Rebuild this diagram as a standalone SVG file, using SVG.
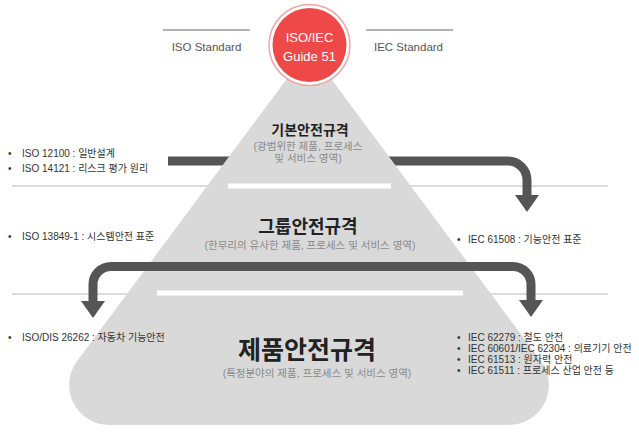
<svg xmlns="http://www.w3.org/2000/svg" width="639" height="434" viewBox="0 0 639 434">
<style>
text{font-family:"Liberation Sans","Noto Sans CJK KR",sans-serif}
.hair{stroke:#999;stroke-width:1.5;fill:none}
.sep{stroke:#cfcfcf;stroke-width:1.5;fill:none}
.arr{stroke:#555;stroke-width:9;fill:none}
.std{font-size:11.5px;fill:#555;text-anchor:middle}
.item{font-size:10px;fill:#333}
.h1{font-weight:bold;fill:#222;text-anchor:middle}
.sub{font-size:10.5px;fill:#8a8a8a;text-anchor:middle}
.bar{fill:#fff}
</style>
<defs>
<marker id="ah" viewBox="0 0 17 24" refX="0" refY="12" markerWidth="17" markerHeight="24" markerUnits="userSpaceOnUse" orient="auto">
<path d="M0,0 L17,12 L0,24 Z" fill="#555"/>
</marker>
</defs>
<rect width="639" height="434" fill="#fff"/>

<g id="separators">
<line class="hair" x1="163" y1="30" x2="250" y2="30"/>
<line class="hair" x1="366" y1="30" x2="453" y2="30"/>
<line class="sep" x1="12" y1="186" x2="608" y2="186"/>
<line class="sep" x1="12" y1="294" x2="608" y2="294"/>
</g>

<g id="connectors-back">
<path class="arr" d="M168,161 H508 A19,19 0 0 1 527,180 V195" marker-end="url(#ah)"/>
</g>

<g id="pyramid">
<path d="M309,49 L541,361.2 A40,40 0 0 1 508.8,425 L109.2,425 A40,40 0 0 1 77,361.2 Z" fill="#d9d9d9"/>
<rect class="bar" x="228" y="183.5" width="163" height="5"/>
<rect class="bar" x="157" y="290.5" width="306" height="5"/>
</g>

<g id="connectors">
<path class="arr" d="M312,266.5 H111 A18,18 0 0 0 93,284.5 V301" marker-end="url(#ah)"/>
<path class="arr" d="M312,266.5 H513 A18,18 0 0 1 531,284.5 V300" marker-end="url(#ah)"/>
</g>

<g id="labels-top">
<text class="std" x="206.5" y="51">ISO Standard</text>
<text class="std" x="408.5" y="51">IEC Standard</text>
</g>

<g id="node-basic">
<text class="h1" x="310" y="135" font-size="14">기본안전규격</text>
<text class="sub" x="308" y="150">(광범위한 제품, 프로세스</text>
<text class="sub" x="308" y="162">및 서비스 영역)</text>
</g>

<g id="node-group">
<text class="h1" x="308" y="233" font-size="18">그룹안전규격</text>
<text class="sub" x="310" y="249">(한무리의 유사한 제품, 프로세스 및 서비스 영역)</text>
</g>

<g id="node-product">
<text class="h1" x="307" y="359" font-size="25">제품안전규격</text>
<text class="sub" x="317" y="377">(특정분야의 제품, 프로세스 및 서비스 영역)</text>
</g>

<g id="iso-list">
<text class="item" x="8" y="157">•</text><text class="item" x="22" y="157">ISO 12100 : 일반설계</text>
<text class="item" x="8" y="172">•</text><text class="item" x="22" y="172">ISO 14121 : 리스크 평가 원리</text>
<text class="item" x="8" y="240">•</text><text class="item" x="22" y="240">ISO 13849-1 : 시스템안전 표준</text>
<text class="item" x="8" y="341">•</text><text class="item" x="22" y="341">ISO/DIS 26262 : 자동차 기능안전</text>
</g>

<g id="iec-list">
<text class="item" x="457" y="243">•</text><text class="item" x="468" y="243">IEC 61508 : 기능안전 표준</text>
<text class="item" x="457" y="341">•</text><text class="item" x="468" y="341">IEC 62279 : 철도 안전</text>
<text class="item" x="457" y="352">•</text><text class="item" x="468" y="352">IEC 60601/IEC 62304 : 의료기기 안전</text>
<text class="item" x="457" y="363">•</text><text class="item" x="468" y="363">IEC 61513 : 원자력 안전</text>
<text class="item" x="457" y="374">•</text><text class="item" x="468" y="374">IEC 61511 : 프로세스 산업 안전 등</text>
</g>

<g id="node-guide51">
<circle cx="309.5" cy="45" r="40.5" fill="#fff" stroke="#f2a5a5" stroke-width="1.5"/>
<circle cx="309.5" cy="45" r="37" fill="#ef4848"/>
<text x="309.5" y="42" font-size="13" fill="#fff" text-anchor="middle">ISO/IEC</text>
<text x="309.5" y="61" font-size="13" fill="#fff" text-anchor="middle">Guide 51</text>
</g>
</svg>
